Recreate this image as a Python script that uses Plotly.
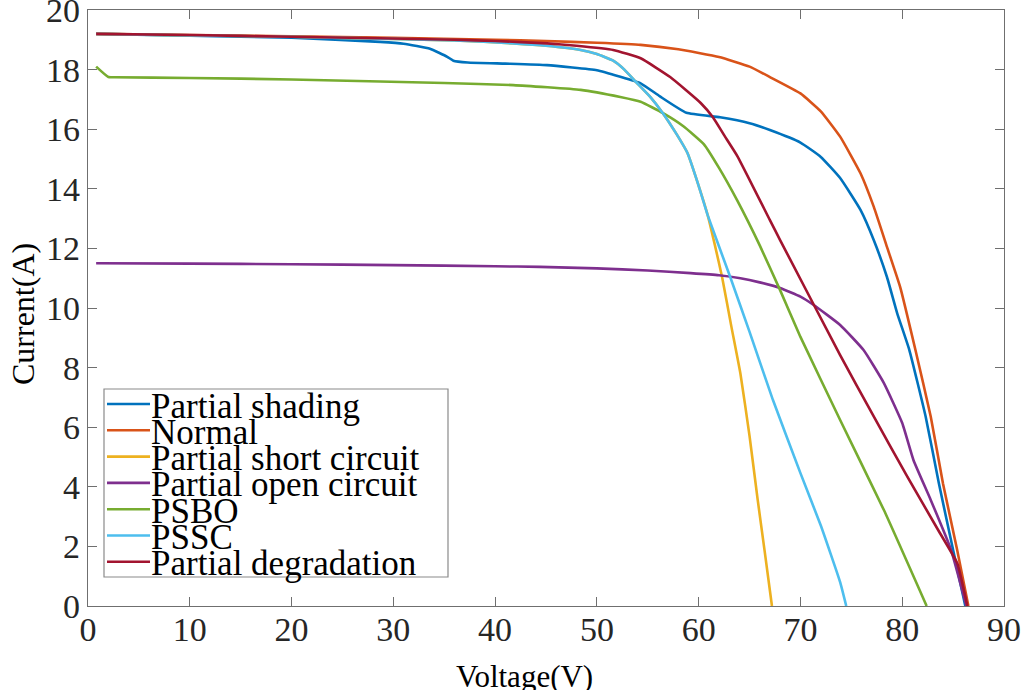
import plotly.graph_objects as go

# ---------------- data ----------------
v_shading = [0.8, 10, 20, 28.7, 31, 33.6, 35.3, 35.9, 37.3, 41, 45.1, 50, 52.3, 54.3, 56.2, 58.8,
             62.1, 65, 67, 70, 72, 73.9, 75.9, 77.2, 78.5, 79.5, 80.7, 82.3, 83.6, 85.0, 86.2]
i_shading = [19.2, 19.14, 19.07, 18.93, 18.87, 18.7, 18.43, 18.3, 18.24, 18.2, 18.15, 17.98, 17.76, 17.54, 17.1, 16.55,
             16.4, 16.2, 15.97, 15.55, 15.07, 14.36, 13.29, 12.28, 11.04, 9.83, 8.59, 6.36, 4.12, 1.88, 0]

v_normal = [0.8, 10, 20, 30, 40, 45, 50, 54.3, 58, 62, 65, 67, 70, 72, 73.9, 75.9, 77.2, 78.5, 79.8,
            81.3, 82.8, 84.0, 85.4, 86.5]
i_normal = [19.2, 19.16, 19.12, 19.07, 19.0, 18.96, 18.9, 18.83, 18.68, 18.42, 18.1, 17.75, 17.2, 16.6, 15.75, 14.52,
            13.4, 12.05, 10.7, 8.59, 6.36, 4.12, 1.88, 0]

v_short = [0.8, 10, 20, 30, 36, 41.8, 45, 48.4, 50, 51.6, 52.7, 53.8, 55.2, 56.5, 57.8, 58.9, 60.0,
           60.9, 61.6, 62.3, 63.2, 64.1, 65.0, 65.8, 66.5, 67.2]
i_short = [19.2, 19.15, 19.1, 19.03, 18.98, 18.88, 18.8, 18.66, 18.52, 18.3, 18.0, 17.6, 17.1, 16.53, 15.85, 15.2, 14.1,
           13.1, 12.1, 11.04, 9.4, 7.8, 5.7, 3.56, 1.8, 0]

v_open = [0.8, 10, 20, 30, 40, 44.4, 50, 55, 59.2, 62, 64.1, 66, 68, 70, 71.3, 73.9, 76.2, 78.2,
          80.0, 81.1, 82.8, 84.8, 86.3]
i_open = [11.5, 11.49, 11.47, 11.44, 11.4, 11.38, 11.33, 11.26, 11.17, 11.1, 11.0, 10.86, 10.67, 10.38, 10.1, 9.43,
          8.59, 7.48, 6.14, 4.9, 3.56, 1.88, 0]

v_psbo = [0.8, 2.0, 2.6, 10, 20, 28.7, 35, 41.8, 48.4, 52.3, 54.3, 56.5, 58.5, 60.5, 62, 63.8, 66, 68, 70,
          73.9, 78.2, 82.4]
i_psbo = [18.1, 17.75, 17.745, 17.72, 17.67, 17.6, 17.55, 17.48, 17.32, 17.08, 16.92, 16.54, 16.1, 15.5, 14.7, 13.6,
          12.1, 10.6, 9.03, 6.24, 3.22, 0]

v_pssc = [0.8, 10, 20, 30, 36, 41.8, 45, 48.4, 50, 51.6, 52.7, 53.8, 55.2, 56.5, 57.8, 58.9, 60.0,
          60.9, 63.1, 65, 67.3, 70, 72, 73.9, 74.5]
i_pssc = [19.2, 19.15, 19.1, 19.03, 18.98, 18.88, 18.8, 18.66, 18.52, 18.3, 18.0, 17.6, 17.1, 16.53, 15.85, 15.2, 14.1,
          13.1, 11.04, 9.2, 6.91, 4.46, 2.7, 0.8, 0]

v_degr = [0.8, 10, 20, 28.7, 36, 40, 45.1, 48, 51.6, 54.3, 57.2, 60.2, 61.4, 62.5, 63.8, 67, 68,
          73.9, 77.2, 80.5, 83.7, 85.4, 86.4]
i_degr = [19.2, 19.16, 19.1, 19.05, 19.0, 18.96, 18.88, 18.8, 18.66, 18.38, 17.75, 16.88, 16.4, 15.8, 15.1, 12.95,
          12.28, 8.42, 6.36, 4.34, 2.45, 1.44, 0]

series_names = ["Partial shading", "Normal", "Partial short circuit", "Partial open circuit",
                "PSBO", "PSSC", "Partial degradation"]
series_colors = ["#0072BD", "#D95319", "#EDB120", "#7E2F8E", "#77AC30", "#4DBEEE", "#A2142F"]
series_v = [v_shading, v_normal, v_short, v_open, v_psbo, v_pssc, v_degr]
series_i = [i_shading, i_normal, i_short, i_open, i_psbo, i_pssc, i_degr]

x_ticks = [0, 10, 20, 30, 40, 50, 60, 70, 80, 90]
y_ticks = [0, 2, 4, 6, 8, 10, 12, 14, 16, 18, 20]

# ---------------- figure ----------------
W, H = 1026, 690
ML, MR, MT, MB = 88, 22, 10, 84
PW, PH = W - ML - MR, H - MT - MB

def px2paper_x(px):
    return (px - ML) / PW

def py2paper_y(py):
    return (H - MB - py) / PH

FONT = "Liberation Serif"
AXC = "#6f6f6f"
TXC = "#262626"

fig = go.Figure()
for name, color, vv, ii in zip(series_names, series_colors, series_v, series_i):
    fig.add_trace(go.Scatter(x=vv, y=ii, mode="lines", name=name,
                             line=dict(color=color, width=2.6, shape="spline", smoothing=0.4),
                             showlegend=False))

axis_common = dict(showgrid=False, zeroline=False, showline=True, linecolor=AXC, linewidth=1.4,
                   mirror="ticks", ticks="inside", ticklen=9, tickwidth=1.2, tickcolor=AXC,
                   automargin=False, ticklabeloverflow="allow",
                   tickfont=dict(family=FONT, size=34, color=TXC))

fig.update_layout(
    width=W, height=H,
    margin=dict(l=ML, r=MR, t=MT, b=MB, autoexpand=False),
    paper_bgcolor="white", plot_bgcolor="white",
    font=dict(family=FONT),
    xaxis=dict(range=[0, 90], tickvals=x_ticks, ticklabelstandoff=-7, **axis_common),
    yaxis=dict(range=[0, 20], tickvals=y_ticks, ticklabelstandoff=0, **axis_common),
    showlegend=False,
)

# axis titles
fig.add_annotation(text="Voltage(V)", xref="paper", yref="paper", x=px2paper_x(524), y=py2paper_y(676),
                   xanchor="center", yanchor="middle", showarrow=False,
                   font=dict(family=FONT, size=31, color="black"))
fig.add_annotation(text="Current(A)", xref="paper", yref="paper", x=px2paper_x(23), y=py2paper_y(314),
                   xanchor="center", yanchor="middle", showarrow=False, textangle=-90,
                   font=dict(family=FONT, size=32, color="black"))

# legend box drawn by hand (tight row spacing as in the reference)
fig.add_shape(type="rect", xref="paper", yref="paper",
              x0=px2paper_x(104), x1=px2paper_x(448), y0=py2paper_y(577), y1=py2paper_y(389),
              line=dict(color="#8a8a8a", width=1.2), fillcolor="white", layer="above")
for k, (name, color) in enumerate(zip(series_names, series_colors)):
    row_py = 404 + k * 26.3
    fig.add_shape(type="line", xref="paper", yref="paper",
                  x0=px2paper_x(107), x1=px2paper_x(150), y0=py2paper_y(row_py), y1=py2paper_y(row_py),
                  line=dict(color=color, width=2.6), layer="above")
    fig.add_annotation(text=name, xref="paper", yref="paper", x=px2paper_x(149), y=py2paper_y(row_py + 2),
                       xanchor="left", yanchor="middle", showarrow=False,
                       font=dict(family=FONT, size=35, color="black"))

fig.write_html("out.html", config={"displayModeBar": False},
               post_script="document.body.style.margin='0';document.body.style.overflow='hidden';")
